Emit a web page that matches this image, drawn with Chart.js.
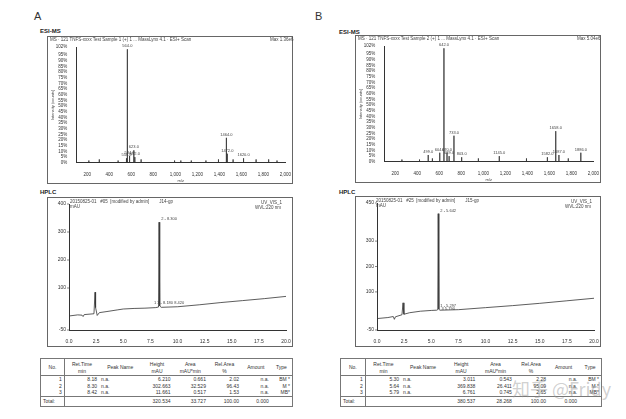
<!DOCTYPE html>
<html><head><meta charset="utf-8">
<script src="https://cdn.jsdelivr.net/npm/chart.js@4"></script>
<style>
body{margin:0;width:626px;height:419px;background:#fff;font-family:"Liberation Sans",Arial,sans-serif;color:#333;position:relative;overflow:hidden}
.box{position:absolute;border:1px solid #666;box-sizing:border-box;background:#fff}
.lbl{position:absolute;font-size:6px;font-weight:bold;color:#222}
.big{position:absolute;font-size:11px;color:#333}
.hdr{position:absolute;font-size:4.5px;color:#444;white-space:nowrap}
table{position:absolute;border-collapse:collapse;font-size:5px;color:#333;border:1px solid #777}
td{padding:0 2px;line-height:6.5px;text-align:right;white-space:nowrap}
tr.h td{text-align:center;border-bottom:1px solid #777;padding-top:2px;padding-bottom:1px}
tr.t td{border-top:1px solid #777;line-height:9px}
td.c1{border-right:1px solid #777;text-align:right}
canvas{position:absolute}
.wm{position:absolute;font-size:18px;color:rgba(150,150,150,0.45);font-family:"Noto Sans CJK SC",sans-serif}
</style></head><body>
<div class="big" style="left:34px;top:10px">A</div>
<div class="big" style="left:315px;top:10px">B</div>
<div class="lbl" style="left:40px;top:28px">ESI-MS</div>
<div class="lbl" style="left:339px;top:29px">ESI-MS</div>
<div class="lbl" style="left:40px;top:189px">HPLC</div>
<div class="lbl" style="left:339px;top:189px">HPLC</div>

<div class="box" style="left:47px;top:36px;width:246px;height:148px"><canvas id="msA" width="244" height="146"></canvas></div>
<div class="box" style="left:355px;top:35px;width:246px;height:148px"><canvas id="msB" width="244" height="146"></canvas></div>
<div class="box" style="left:47px;top:197px;width:246px;height:150px"><canvas id="lcA" width="244" height="148"></canvas></div>
<div class="box" style="left:355px;top:196px;width:246px;height:151px"><canvas id="lcB" width="244" height="149"></canvas></div>

<div class="hdr" style="left:50px;top:37px">MS · 121 TNFS-xxxx Test Sample 1 (+) 1 ... MassLynx 4.1 · ESI+ Scan</div>
<div class="hdr" style="left:270px;top:37px">Max 1.36e6</div>
<div class="hdr" style="left:358px;top:36px">MS · 121 TNFS-xxxx Test Sample 2 (+) 1 ... MassLynx 4.1 · ESI+ Scan</div>
<div class="hdr" style="left:577px;top:36px">Max 5.04e6</div>
<div class="hdr" style="left:70px;top:199px">20150825-01 &nbsp; #05 &nbsp;[modified by admin] &nbsp; &nbsp; &nbsp; &nbsp;J14-gp</div>
<div class="hdr" style="left:70px;top:204px">mAU</div>
<div class="hdr" style="left:261px;top:200px">UV_VIS_1</div>
<div class="hdr" style="left:255px;top:205px">WVL:220 nm</div>
<div class="hdr" style="left:376px;top:198px">20150825-01 &nbsp; #25 &nbsp;[modified by admin] &nbsp; &nbsp; &nbsp; &nbsp;J15-gp</div>
<div class="hdr" style="left:376px;top:203px">mAU</div>
<div class="hdr" style="left:571px;top:199px">UV_VIS_1</div>
<div class="hdr" style="left:565px;top:204px">WVL:220 nm</div>

<div id="tA"></div><div id="tB"></div>
<div class="wm" style="left:512px;top:375px">知乎 @Fridy</div>

<script>
// ---- data ----
const msA_mz  = [214,309,480,556,564,584,623,632,689,993,1050,1145,1278,1392,1464,1472,1525,1620,1734,1848,1924];
const msA_int = [2,3,2,4,100,6,11,5,3,2,2,2,2,3,22,8,3,4,3,3,2];
const msB_mz  = [260,420,499,537,604,642,670,689,733,803,955,1145,1392,1582,1658,1687,1772,1886];
const msB_int = [2,2,6,3,8,100,8,5,23,4,3,5,3,4,27,6,3,8];
const msTicks = [200,400,600,800,1000,1200,1400,1600,1800,2000];

const lcA_t = [0,0.8,1.2,1.3,1.4,2.3,2.4,2.45,2.6,2.8,3.5,4.5,5,6,7,8,8.25,8.3,8.36,8.5,10,12,14,16,18,20];
const lcA_y = [0,4,3,-2,5,8,85,30,2,12,16,22,25,27,28,30,32,335,36,31,33,40,48,55,62,70];
const lcB_t = [0,1,1.5,1.6,1.7,2.3,2.4,2.48,3,4,5,5.5,5.6,5.64,5.7,5.8,7.5,10,12.5,15,17.5,20];
const lcB_y = [-5,-1,3,-8,2,10,57,12,18,24,27,28,30,408,32,28,30,38,46,55,65,75];
const lcTicksX = [0,2.5,5,7.5,10,12.5,15,17.5,20];
const lcA_ticksY = [-50,100,200,300,400];
const lcB_ticksY = [-50,100,200,300,450];
const lcA_labels = [{t:8.30,y:335,s:"2 - 8.300"},{t:8.30,y:36,s:"1 3 - 8.180 8.420"}];
const lcB_labels = [{t:5.64,y:408,s:"2 - 5.642"},{t:5.64,y:34,s:"1 - 5.297"},{t:5.64,y:22,s:"3 5.790"}];

const tableCols = ["No.","Ret.Time<br>min","Peak Name","Height<br>mAU","Area<br>mAU*min","Rel.Area<br>%","Amount","Type"];
const tableA = [["1","8.18","n.a.","6.210","0.661","2.02","n.a.","BM *"],["2","8.30","n.a.","302.663","32.529","96.43","n.a.","M *"],["3","8.42","n.a.","11.661","0.517","1.53","n.a.","MB*"]];
const totalA = ["320.534","33.727","100.00","0.000"];
const tableB = [["1","5.30","n.a.","3.011","0.543","2.28","n.a.","BM *"],["2","5.64","n.a.","369.838","26.411","95.09","n.a.","M *"],["3","5.79","n.a.","6.761","0.745","2.65","n.a.","MB*"]];
const totalB = ["380.537","28.268","100.00","0.000"];

// ---- charts ----
Chart.defaults.font.family = "Liberation Sans, Arial, sans-serif";
Chart.defaults.color = "#444";
const tick = {font:{size:5},color:"#333",padding:1,autoSkip:false};

function sticks(mz, it){ const p=[]; mz.forEach((m,i)=>{p.push({x:m,y:0},{x:m,y:it[i]},{x:m,y:0});}); return p; }
const peakLbl = {id:'peakLbl', afterDatasetsDraw(c,a,o){
  const ctx=c.ctx, xs=c.scales.x, ys=c.scales.y; ctx.save(); ctx.font="4px Liberation Sans"; ctx.fillStyle="#444"; ctx.textAlign="center";
  (o.items||[]).forEach(l=>{ ctx.fillText(l.s, xs.getPixelForValue(l.x)+(l.dx||0), ys.getPixelForValue(l.y)-2); });
  ctx.restore(); }};
const yLbl = {id:'yLbl', afterDraw(c,a,o){
  if(!o.values) return;
  const ctx=c.ctx, ys=c.scales.y, x0=c.chartArea.left; ctx.save(); ctx.font="5px Liberation Sans"; ctx.fillStyle="#333"; ctx.strokeStyle="#333"; ctx.lineWidth=0.6;
  ctx.textAlign="right"; ctx.textBaseline="middle";
  o.values.forEach(v=>{ const py=ys.getPixelForValue(v); ctx.fillText(String(v), x0-3, py); ctx.beginPath(); ctx.moveTo(x0-2,py); ctx.lineTo(x0,py); ctx.stroke(); });
  ctx.restore(); }};

function ms(id, mz, it, top){
  const items = mz.map((m,i)=>({x:m,y:it[i],s:m.toFixed(1)})).filter(d=>d.y>=4);
  new Chart(document.getElementById(id),{type:'scatter',
    data:{datasets:[{data:sticks(mz,it),showLine:true,borderColor:'#333',borderWidth:0.8,pointRadius:0,tension:0}]},
    options:{responsive:false,animation:false,layout:{padding:{top:10,right:4,left:2,bottom:0}},
      plugins:{legend:{display:false},tooltip:{enabled:false},peakLbl:{items}},
      scales:{x:{type:'linear',min:100,max:2000,grid:{display:false},border:{color:'#333'},
          afterBuildTicks:a=>{a.ticks=msTicks.map(v=>({value:v}));},ticks:{...tick,font:{size:4.5},maxRotation:0},
          title:{display:true,text:'m/z',font:{size:4},padding:0}},
        y:{min:0,max:top,grid:{display:false},border:{color:'#333'},ticks:{...tick,font:{size:4.5},stepSize:5,callback:v=>v+'%'},
          title:{display:true,text:'Intensity (counts)',font:{size:4},padding:0}}}},
    plugins:[peakLbl]});
}
ms('msA',msA_mz,msA_int,102);
ms('msB',msB_mz,msB_int,102);

function lc(id,t,y,ymax,ticksY,labels){
  new Chart(document.getElementById(id),{type:'scatter',
    data:{datasets:[{data:t.map((v,i)=>({x:v,y:y[i]})),showLine:true,borderColor:'#333',borderWidth:0.8,pointRadius:0,tension:0}]},
    options:{responsive:false,animation:false,layout:{padding:{top:6,right:6,left:13,bottom:0}},
      plugins:{legend:{display:false},tooltip:{enabled:false},yLbl:{values:ticksY},peakLbl:{items:labels.map(l=>({x:l.t,y:l.y,s:l.s,dx:10}))}},
      scales:{x:{type:'linear',min:0,max:20,grid:{display:false},border:{color:'#333'},
          afterBuildTicks:a=>{a.ticks=lcTicksX.map(v=>({value:v}));},ticks:{...tick,maxRotation:0,callback:v=>v.toFixed(1)}},
        y:{min:-50,max:ymax,grid:{display:false},border:{color:'#333'},ticks:{display:false}}}},
    plugins:[peakLbl,yLbl]});
}
lc('lcA',lcA_t,lcA_y,400,lcA_ticksY,lcA_labels);
lc('lcB',lcB_t,lcB_y,450,lcB_ticksY,lcB_labels);

function table(el,rows,tot,left,top,w){
  let h='<table style="left:'+left+'px;top:'+top+'px;width:'+w+'px"><tr class="h">'+tableCols.map((c,i)=>'<td'+(i==0?' class="c1"':'')+'>'+c+'</td>').join('')+'</tr>';
  rows.forEach(r=>{h+='<tr>'+r.map((c,i)=>'<td'+(i==0?' class="c1"':'')+(i==2?' style="text-align:left"':'')+'>'+c+'</td>').join('')+'</tr>';});
  h+='<tr class="t"><td class="c1" style="text-align:left">Total:</td><td></td><td></td>'+tot.map(c=>'<td>'+c+'</td>').join('')+'<td></td></tr></table>';
  document.getElementById(el).innerHTML=h;
}
table('tA',tableA,totalA,40,358,253);
table('tB',tableB,totalB,340,358,262);
</script></body></html>
